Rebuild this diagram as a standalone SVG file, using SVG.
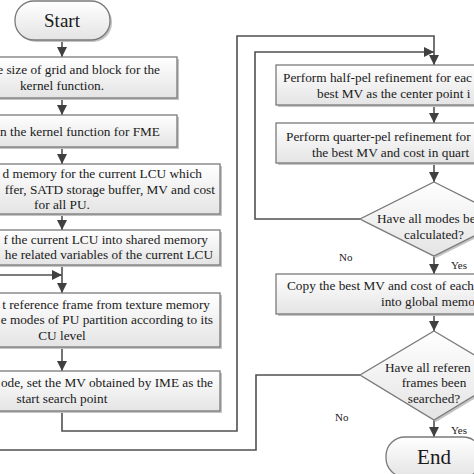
<svg xmlns="http://www.w3.org/2000/svg" width="474" height="474" viewBox="0 0 474 474">
<style>
text{font-family:"Liberation Serif","Times New Roman",serif;fill:#1a1a1a;font-size:13.3px}
.c{text-anchor:middle}
.e{text-anchor:end}
.box{fill:url(#g);stroke:#7a7a7a;stroke-width:1.3}
.sh{fill:#c4c4c4}
.ln{fill:none;stroke:#505050;stroke-width:1.6}
.lb{font-size:11px}
</style>
<defs>
<linearGradient id="g" x1="0" y1="0" x2="0" y2="1">
<stop offset="0" stop-color="#ffffff"/>
<stop offset="1" stop-color="#e4e4e4"/>
</linearGradient>
<marker id="a" markerUnits="userSpaceOnUse" markerWidth="10" markerHeight="10" viewBox="0 0 10 10" refX="10" refY="5" orient="auto">
<path d="M0,0 L10,5 L0,10 Z" fill="#404040"/>
</marker>
</defs>
<g id="connectors">
<line class="ln" x1="62" y1="40" x2="62" y2="57" marker-end="url(#a)"/>
<line class="ln" x1="62" y1="98" x2="62" y2="115" marker-end="url(#a)"/>
<line class="ln" x1="62" y1="147" x2="62" y2="164" marker-end="url(#a)"/>
<line class="ln" x1="62" y1="214" x2="62" y2="230" marker-end="url(#a)"/>
<line class="ln" x1="62" y1="265" x2="62" y2="293" marker-end="url(#a)"/>
<line class="ln" x1="0" y1="275" x2="62" y2="275" marker-end="url(#a)"/>
<line class="ln" x1="62" y1="347" x2="62" y2="371" marker-end="url(#a)"/>
<polyline class="ln" points="62,411 62,431 237,431 237,36 434,36 434,65" marker-end="url(#a)"/>
<polyline class="ln" points="360,219 255,219 255,52 434,52" marker-end="url(#a)"/>
<polyline class="ln" points="360,375 256,375 256,450 0,450"/>
<line class="ln" x1="434" y1="105" x2="434" y2="123" marker-end="url(#a)"/>
<line class="ln" x1="434" y1="163" x2="434" y2="182" marker-end="url(#a)"/>
<line class="ln" x1="434" y1="256" x2="434" y2="274" marker-end="url(#a)"/>
<line class="ln" x1="434" y1="314" x2="434" y2="331" marker-end="url(#a)"/>
<line class="ln" x1="434" y1="420" x2="434" y2="437" marker-end="url(#a)"/>
<text class="lb" x="339" y="261">No</text>
<text class="lb" x="451" y="269">Yes</text>
<text class="lb" x="335" y="421">No</text>
<text class="lb" x="451" y="434">Yes</text>
</g>
<g id="start">
<rect class="sh" x="17" y="3" width="95" height="39" rx="19"/>
<rect class="box" x="15" y="1" width="95" height="39" rx="19"/>
<text class="c" x="62" y="27" style="font-size:19px">Start</text>
</g>
<g id="n1">
<rect class="sh" x="-51" y="59" width="230" height="41"/>
<rect class="box" x="-53" y="57" width="230" height="41"/>
<text class="e" x="160" y="74">e size of grid and block for the</text>
<text class="c" x="62" y="90">kernel function.</text>
</g>
<g id="n2">
<rect class="sh" x="-51" y="117" width="230" height="32"/>
<rect class="box" x="-53" y="115" width="230" height="32"/>
<text class="e" x="160" y="136">n the kernel function for FME</text>
</g>
<g id="n3">
<rect class="sh" x="-94" y="166" width="316" height="50"/>
<rect class="box" x="-96" y="164" width="316" height="50"/>
<text class="e" x="202" y="178">d memory for the current LCU which</text>
<text class="e" x="215" y="194">ffer, SATD storage buffer,  MV and cost</text>
<text class="c" x="62" y="209">for all PU.</text>
</g>
<g id="n4">
<rect class="sh" x="-94" y="232" width="316" height="35"/>
<rect class="box" x="-96" y="230" width="316" height="35"/>
<text class="e" x="208" y="244">f the current LCU into shared memory</text>
<text class="e" x="213" y="259">he related variables of the current LCU</text>
</g>
<g id="n5">
<rect class="sh" x="-94" y="295" width="316" height="54"/>
<rect class="box" x="-96" y="293" width="316" height="54"/>
<text class="e" x="210" y="309">t reference frame from texture memory</text>
<text class="e" x="213" y="324">e modes of PU partition according to its</text>
<text class="c" x="62" y="340">CU level</text>
</g>
<g id="n6">
<rect class="sh" x="-94" y="373" width="316" height="40"/>
<rect class="box" x="-96" y="371" width="316" height="40"/>
<text class="e" x="213" y="387">ode, set the MV obtained by IME as the</text>
<text class="c" x="62" y="403">start search point</text>
</g>
<g id="n7">
<rect class="sh" x="278" y="67" width="240" height="40"/>
<rect class="box" x="276" y="65" width="240" height="40"/>
<text x="283" y="82">Perform half-pel refinement for eac</text>
<text x="317" y="98">best MV as the center point i</text>
</g>
<g id="n8">
<rect class="sh" x="278" y="125" width="240" height="40"/>
<rect class="box" x="276" y="123" width="240" height="40"/>
<text x="286" y="141">Perform quarter-pel refinement for</text>
<text x="312" y="157">the best MV and cost in quart</text>
</g>
<g id="d1">
<polygon class="sh" points="436,184 510,221 436,258 362,221"/>
<polygon class="box" points="434,182 508,219 434,256 360,219"/>
<text x="377" y="223">Have all modes be</text>
<text class="c" x="434" y="239">calculated?</text>
</g>
<g id="n9">
<rect class="sh" x="278" y="276" width="240" height="40"/>
<rect class="box" x="276" y="274" width="240" height="40"/>
<text x="287" y="290">Copy the best MV and cost of each</text>
<text x="381" y="306">into global memo</text>
</g>
<g id="d2">
<polygon class="sh" points="436,333 510,377 436,422 362,377"/>
<polygon class="box" points="434,331 508,375 434,420 360,375"/>
<text x="385" y="372">Have all referen</text>
<text class="c" x="434" y="387">frames been</text>
<text class="c" x="434" y="403">searched?</text>
</g>
<g id="end">
<rect class="sh" x="388" y="439" width="96" height="40" rx="19"/>
<rect class="box" x="386" y="437" width="96" height="40" rx="19"/>
<text class="c" x="434" y="464" style="font-size:21px">End</text>
</g>
</svg>
